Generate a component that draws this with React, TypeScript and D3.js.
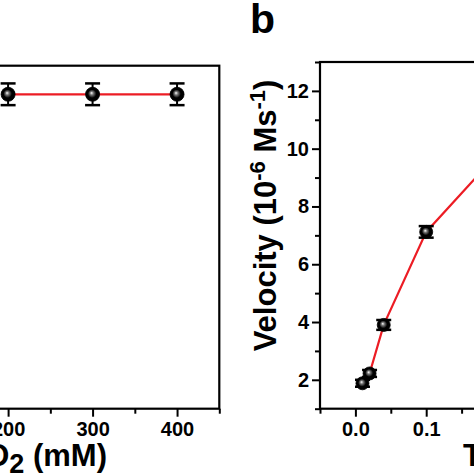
import { useEffect, useRef } from 'react';
import * as d3 from 'd3';

// panel a: velocity vs H2O2 (only right part visible)
const h2o2Conc = [200, 300, 400];
const h2o2Velocity = [11.0, 11.0, 11.0];
const h2o2Err = [0.38, 0.38, 0.38];
const h2o2Ticks = [200, 300, 400];
const h2o2Minor = [250, 350, 450];

// panel b: velocity vs TMB
const tmbConc = [0.01, 0.02, 0.04, 0.1, 0.2];
const tmbVelocity = [1.88, 2.22, 3.9, 7.12, 9.8];
const tmbErr = [0.12, 0.12, 0.17, 0.2, 0.2];
const tmbTicks = [0.0, 0.1];
const tmbMinor = [-0.05, 0.05, 0.15, 0.2, 0.25];
const velTicks = [2, 4, 6, 8, 10, 12];
const velMinor = [1, 3, 5, 7, 9, 11, 13];

const FONT = '"Liberation Sans", Arial, sans-serif';
const RED = '#ec1c24';

export default function App() {
  const svgRef = useRef<SVGSVGElement | null>(null);

  useEffect(() => {
    const svg = svgRef.current;
    if (!svg) return;
    const width = 474;
    const height = 474;
    const root = d3.select(svg);
    root.attr('viewBox', `0 0 ${width} ${height}`);
    root.selectAll('*').remove();

    const defs = root.append('defs');
    const grad = defs
      .append('radialGradient')
      .attr('id', 'ball')
      .attr('cx', '0.5')
      .attr('cy', '0.5')
      .attr('r', '0.5')
      .attr('fx', '0.42')
      .attr('fy', '0.4');
    grad.append('stop').attr('offset', '0').attr('stop-color', '#ffffff');
    grad.append('stop').attr('offset', '0.25').attr('stop-color', '#777777');
    grad.append('stop').attr('offset', '0.6').attr('stop-color', '#000000');

    const styleAxis = (g: any) => {
      g.select('.domain').remove();
      g.selectAll('line').attr('stroke', '#000').attr('stroke-width', 2);
      g.selectAll('text')
        .attr('fill', '#000')
        .attr('font-family', FONT)
        .attr('font-weight', 'bold')
        .attr('font-size', 20);
    };

    const drawSeries = (
      xs: number[],
      ys: number[],
      es: number[],
      x: d3.ScaleLinear<number, number>,
      y: d3.ScaleLinear<number, number>,
      r: number
    ) => {
      const pts = xs.map((v, i) => ({ x: v, y: ys[i], e: es[i] }));
      const line = d3
        .line<{ x: number; y: number }>()
        .x((d) => x(d.x))
        .y((d) => y(d.y));
      root
        .append('path')
        .datum(pts)
        .attr('fill', 'none')
        .attr('stroke', RED)
        .attr('stroke-width', 2.2)
        .attr('d', line as any);
      const g = root.append('g');
      pts.forEach((d) => {
        const cx = x(d.x);
        const top = y(d.y + d.e);
        const bot = y(d.y - d.e);
        g.append('line')
          .attr('x1', cx).attr('x2', cx)
          .attr('y1', top).attr('y2', bot)
          .attr('stroke', '#000').attr('stroke-width', 2);
        [top, bot].forEach((yy) =>
          g.append('line')
            .attr('x1', cx - 7.5).attr('x2', cx + 7.5)
            .attr('y1', yy).attr('y2', yy)
            .attr('stroke', '#000').attr('stroke-width', 2.5)
        );
        g.append('circle')
          .attr('cx', cx)
          .attr('cy', y(d.y))
          .attr('r', r)
          .attr('fill', 'url(#ball)')
          .attr('stroke', '#000')
          .attr('stroke-width', 0.8);
      });
    };

    // ---- panel a ----
    const xa = d3.scaleLinear().domain([-50, 450]).range([-203.1, 219.3]);
    const ya = d3.scaleLinear().domain([0, 12]).range([408.7, 65.7]);
    root
      .append('rect')
      .attr('x', xa(-50)).attr('y', ya(12))
      .attr('width', xa(450) - xa(-50)).attr('height', ya(0) - ya(12))
      .attr('fill', 'none').attr('stroke', '#000').attr('stroke-width', 2.2);
    root.append('g')
      .attr('transform', `translate(0,${ya(0)})`)
      .call(d3.axisBottom(xa).tickValues(h2o2Ticks).tickSize(8).tickPadding(5).tickFormat(d3.format('d')))
      .call(styleAxis);
    root.append('g')
      .attr('transform', `translate(0,${ya(0)})`)
      .call(d3.axisBottom(xa).tickValues(h2o2Minor).tickSize(5).tickFormat(() => ''))
      .call(styleAxis);
    drawSeries(h2o2Conc, h2o2Velocity, h2o2Err, xa, ya, 7);

    const ta = root.append('text')
      .attr('x', 107).attr('y', 466)
      .attr('text-anchor', 'end')
      .attr('font-family', FONT).attr('font-weight', 'bold').attr('font-size', 31)
      .attr('fill', '#000');
    ta.append('tspan').text('H');
    ta.append('tspan').attr('font-size', 27).attr('dy', 7).text('2');
    ta.append('tspan').attr('dy', -7).text('O');
    ta.append('tspan').attr('font-size', 27).attr('dy', 7).text('2');
    ta.append('tspan').attr('dy', -7).text(' (mM)');

    // ---- panel b ----
    const xb = d3.scaleLinear().domain([-0.05, 0.25]).range([320, 532.4]);
    const yb = d3.scaleLinear().domain([1, 13]).range([408.7, 62]);
    root
      .append('rect')
      .attr('x', xb(-0.05)).attr('y', yb(13))
      .attr('width', xb(0.25) - xb(-0.05)).attr('height', yb(1) - yb(13))
      .attr('fill', 'none').attr('stroke', '#000').attr('stroke-width', 2.2);
    root.append('g')
      .attr('transform', `translate(0,${yb(1)})`)
      .call(d3.axisBottom(xb).tickValues(tmbTicks).tickSize(8).tickPadding(5).tickFormat(d3.format('.1f')))
      .call(styleAxis);
    root.append('g')
      .attr('transform', `translate(0,${yb(1)})`)
      .call(d3.axisBottom(xb).tickValues(tmbMinor).tickSize(5).tickFormat(() => ''))
      .call(styleAxis);
    root.append('g')
      .attr('transform', `translate(${xb(-0.05)},0)`)
      .call(d3.axisLeft(yb).tickValues(velTicks).tickSize(8).tickPadding(3).tickFormat(d3.format('d')))
      .call(styleAxis);
    root.append('g')
      .attr('transform', `translate(${xb(-0.05)},0)`)
      .call(d3.axisLeft(yb).tickValues(velMinor).tickSize(5).tickFormat(() => ''))
      .call(styleAxis);
    drawSeries(tmbConc, tmbVelocity, tmbErr, xb, yb, 6.5);

    root.append('text')
      .attr('x', 463).attr('y', 466)
      .attr('font-family', FONT).attr('font-weight', 'bold').attr('font-size', 31)
      .attr('fill', '#000')
      .text('TMB (mM)');

    const yl = root.append('text')
      .attr('transform', 'translate(276,215.5) rotate(-90)')
      .attr('text-anchor', 'middle')
      .attr('font-family', FONT).attr('font-weight', 'bold').attr('font-size', 31)
      .attr('fill', '#000');
    yl.append('tspan').text('Velocity (10');
    yl.append('tspan').attr('font-size', 22).attr('dy', -11).text('-6');
    yl.append('tspan').attr('dy', 11).text(' Ms');
    yl.append('tspan').attr('font-size', 22).attr('dy', -11).text('-1');
    yl.append('tspan').attr('dy', 11).text(')');

    root.append('text')
      .attr('x', 250).attr('y', 33)
      .attr('font-family', FONT).attr('font-weight', 'bold').attr('font-size', 41)
      .attr('fill', '#000')
      .text('b');
  }, []);

  return (
    <svg
      ref={svgRef}
      width={474}
      height={474}
      style={{ position: 'absolute', left: 0, top: 0, background: '#fff' }}
    />
  );
}
